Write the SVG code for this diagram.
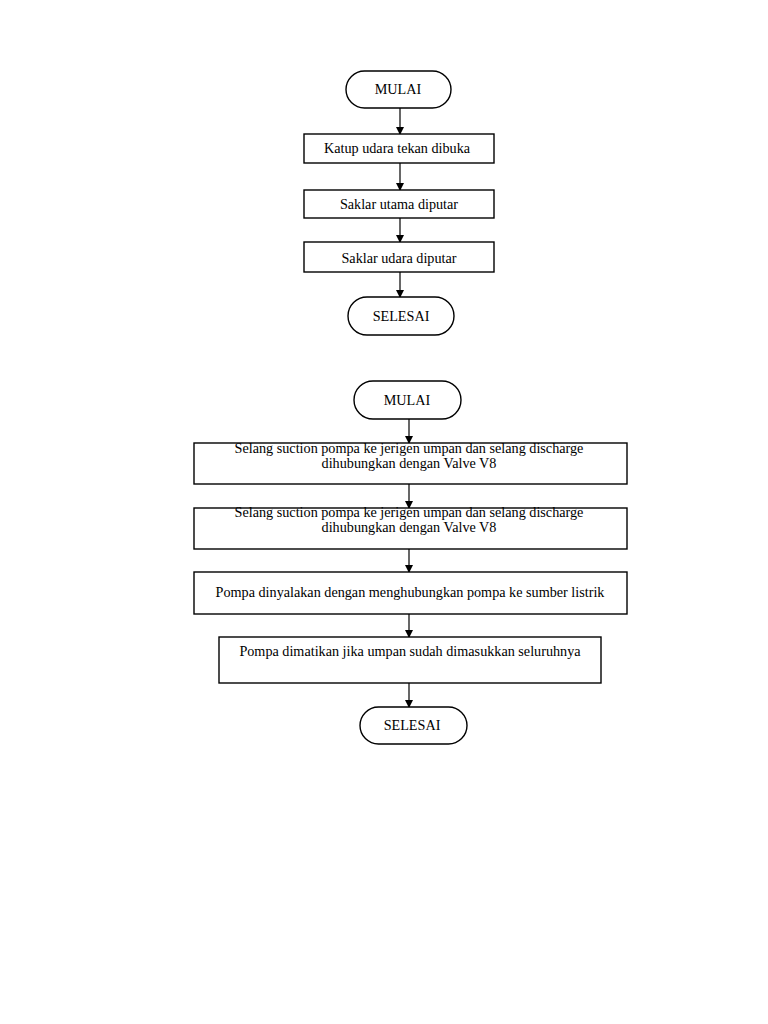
<svg xmlns="http://www.w3.org/2000/svg" width="768" height="1024" viewBox="0 0 768 1024">
<defs>
<marker id="ah" markerWidth="8" markerHeight="8" refX="7" refY="4" orient="auto" markerUnits="userSpaceOnUse">
<path d="M0,0 L8,4 L0,8 Z" fill="#000"/>
</marker>
<style>
.n{fill:#fff;stroke:#000;stroke-width:1.4}
.t{font-family:"Liberation Serif","Times New Roman",serif;font-size:14.2px;fill:#000;text-anchor:middle}
.c{stroke:#000;stroke-width:1.2;fill:none;marker-end:url(#ah)}
</style>
</defs>
<rect width="768" height="1024" fill="#fff"/>
<g id="connectors">
<line class="c" x1="400" y1="108" x2="400" y2="134"/>
<line class="c" x1="400" y1="163" x2="400" y2="190"/>
<line class="c" x1="400" y1="218" x2="400" y2="242"/>
<line class="c" x1="400" y1="272" x2="400" y2="297"/>
<line class="c" x1="409" y1="419" x2="409" y2="443"/>
<line class="c" x1="409" y1="484" x2="409" y2="508"/>
<line class="c" x1="409" y1="549" x2="409" y2="572"/>
<line class="c" x1="409" y1="614" x2="409" y2="637"/>
<line class="c" x1="409" y1="683" x2="409" y2="707"/>
</g>
<g id="mulai1"><rect class="n" x="346" y="71" width="105" height="37" rx="18.5"/><text class="t" x="398" y="94">MULAI</text></g>
<g id="katup"><rect class="n" x="304" y="134" width="190" height="29"/><text class="t" x="397" y="153">Katup udara tekan dibuka</text></g>
<g id="saklar-utama"><rect class="n" x="304" y="190" width="190" height="28"/><text class="t" x="399" y="209">Saklar utama diputar</text></g>
<g id="saklar-udara"><rect class="n" x="304" y="242" width="190" height="30"/><text class="t" x="399" y="263">Saklar udara diputar</text></g>
<g id="selesai1"><rect class="n" x="348" y="297" width="106" height="38" rx="19"/><text class="t" x="401" y="321">SELESAI</text></g>
<g id="mulai2"><rect class="n" x="354" y="381" width="107" height="38" rx="19"/><text class="t" x="407" y="405">MULAI</text></g>
<g id="selang1"><rect class="n" x="194" y="443" width="433" height="41"/><text class="t" x="409" y="453">Selang suction pompa ke jerigen umpan dan selang discharge</text><text class="t" x="409" y="468">dihubungkan dengan Valve V8</text></g>
<g id="selang2"><rect class="n" x="194" y="508" width="433" height="41"/><text class="t" x="409" y="517">Selang suction pompa ke jerigen umpan dan selang discharge</text><text class="t" x="409" y="532">dihubungkan dengan Valve V8</text></g>
<g id="pompa-nyala"><rect class="n" x="194" y="572" width="433" height="42"/><text class="t" x="410" y="597">Pompa dinyalakan dengan menghubungkan pompa ke sumber listrik</text></g>
<g id="pompa-mati"><rect class="n" x="219" y="637" width="382" height="46"/><text class="t" x="410" y="656">Pompa dimatikan jika umpan sudah dimasukkan seluruhnya</text></g>
<g id="selesai2"><rect class="n" x="360" y="707" width="107" height="37" rx="18.5"/><text class="t" x="412" y="730">SELESAI</text></g>
</svg>
